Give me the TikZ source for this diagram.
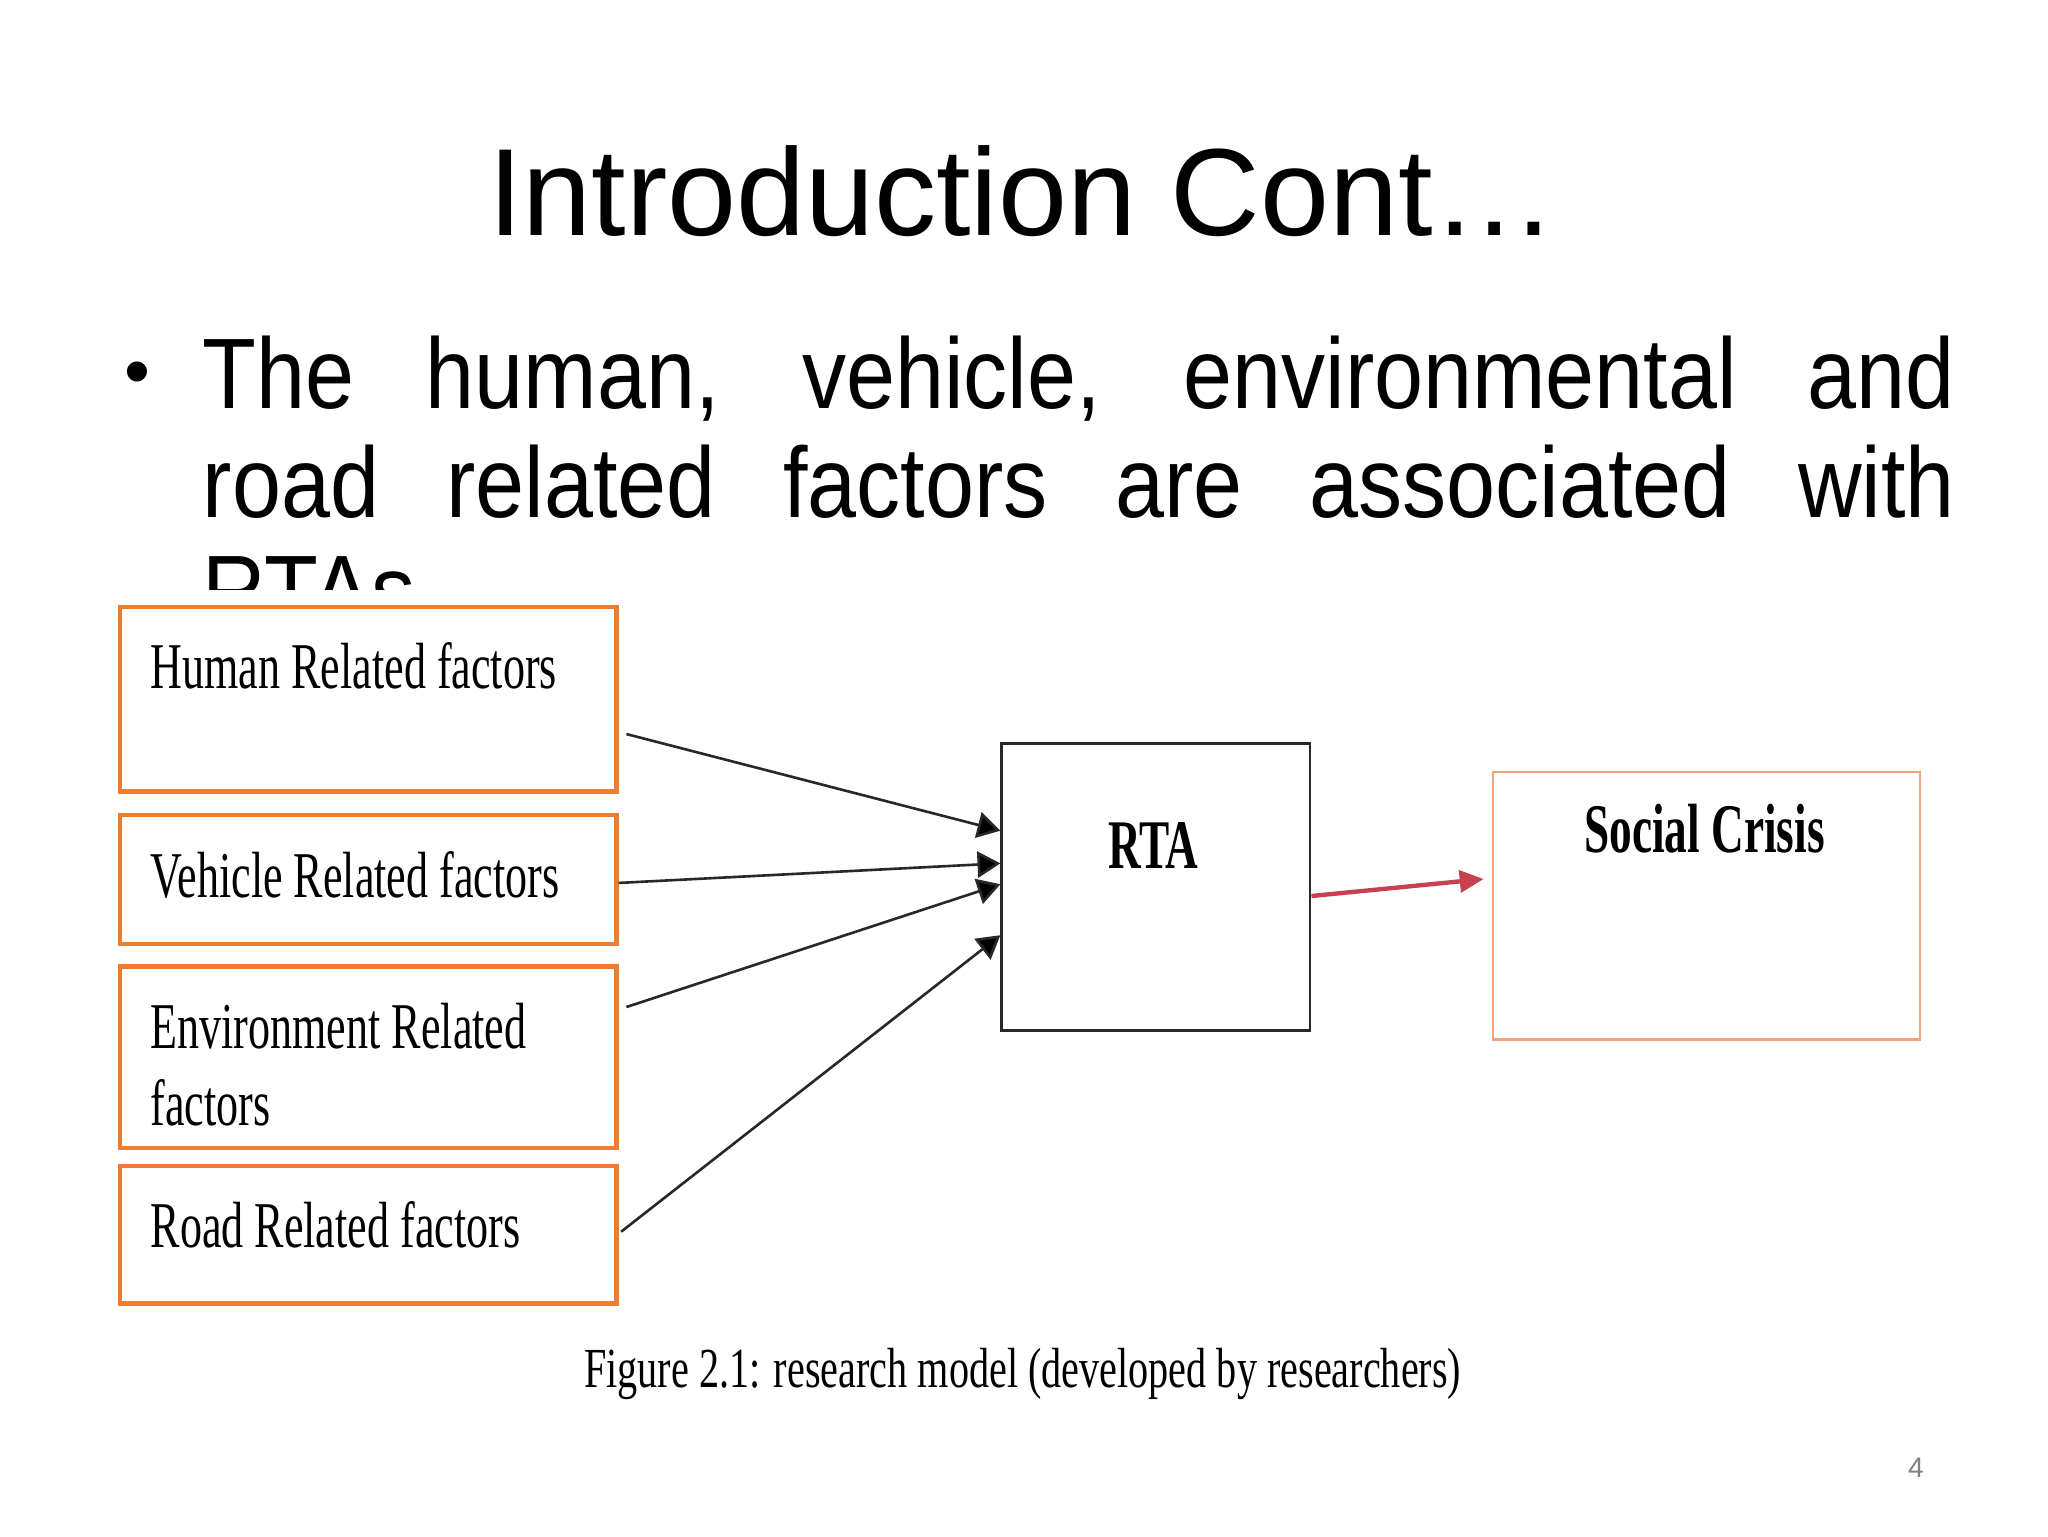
\documentclass[tikz,border=0pt]{standalone}
\usepackage{fontspec}
\setmainfont{Liberation Sans}
\newfontfamily\figfont[FakeStretch=0.675]{Liberation Serif}
\newfontfamily\boldfigfont[FakeStretch=0.65]{Liberation Serif}
\newfontfamily\capfont[FakeStretch=0.71]{Liberation Serif}
\newfontfamily\slidefont[FakeStretch=0.88]{Liberation Sans}
\usetikzlibrary{arrows.meta,calc}
\definecolor{boxorange}{RGB}{237,125,49}
\definecolor{lightorange}{RGB}{242,165,125}
\definecolor{darkline}{RGB}{40,40,40}
\definecolor{redarrow}{RGB}{200,65,80}
\definecolor{pagegray}{RGB}{130,130,130}
\tikzset{
  factorbox/.style={draw=boxorange, line width=1.9pt, minimum width=228pt, inner sep=0pt},
  figtext/.style={font=\figfont\fontsize{30}{34}\selectfont, inner sep=0pt},
  figbold/.style={font=\boldfigfont\bfseries\fontsize{32}{36}\selectfont, inner sep=0pt},
  inarrow/.style={draw=darkline, line width=1.2pt, -{Triangle[length=10.5pt,width=12pt,fill=black]}},
  slidetext/.style={font=\slidefont\fontsize{46}{50}\selectfont, inner sep=0pt}
}
\begin{document}
\begin{tikzpicture}[x=0.6pt,y=-0.6pt]
\useasboundingbox[fill=white] (0,0) rectangle (1568,1176);
% title
\node[font=\fontsize{57}{68}\selectfont, anchor=base, inner sep=0pt] (title) at (783,180) {Introduction Cont…};
% bullet
\node[font=\fontsize{34}{40}\selectfont, inner sep=0pt] (bullet) at (105,290) {•};
\node[slidetext, anchor=base west] (l1) at (155,313) {\makebox[805pt][s]{The human, vehicle, environmental and}};
\node[slidetext, anchor=base west] (l2) at (155,396) {\makebox[805pt][s]{road related factors are associated with}};
\node[slidetext, anchor=base west] (l3) at (155,479) {RTAs.};
% figure image area covering the text
\fill[white] (60,452) rectangle (1510,1088);
% factor boxes
\node[factorbox, minimum height=84.6pt] (hum) at (282,535.5) {};
\node[factorbox, minimum height=59.4pt] (veh) at (282,673.5) {};
\node[factorbox, minimum height=83.4pt] (env) at (282,809.5) {};
\node[factorbox, minimum height=63pt] (road) at (282,945.5) {};
\node[figtext, anchor=base west] (humt) at (115,527) {Human Related factors};
\node[figtext, anchor=base west] (veht) at (115,687) {Vehicle Related factors};
\node[figtext, anchor=base west] (envt) at (115,803) {Environment Related};
\node[figtext, anchor=base west] (envt2) at (115,862) {factors};
\node[figtext, anchor=base west] (roadt) at (115,955) {Road Related factors};
% RTA box
\node[draw=darkline, line width=1.3pt, minimum width=141.6pt, minimum height=132pt, inner sep=0pt] (rta) at (885,679) {};
\node[figbold, anchor=base] (rtat) at (883,665) {RTA};
% Social crisis box
\node[draw=lightorange, line width=1.3pt, minimum width=196.2pt, minimum height=123pt, inner sep=0pt] (soc) at (1306.5,693.5) {};
\node[figbold, anchor=base] (soct) at (1305,653) {Social Crisis};
% connectors
\coordinate (hs) at ($(hum.east)+(6,26.5)$);
\coordinate (vs) at ($(veh.east)+(0,2.5)$);
\coordinate (es) at ($(env.east)+(6,-38.5)$);
\coordinate (rs) at ($(road.east)+(2,-2.5)$);
\coordinate (he) at ($(rta.west)+(0,-43)$);
\coordinate (ve) at ($(rta.west)+(0,-18)$);
\coordinate (ee) at ($(rta.west)+(0,-2)$);
\coordinate (re) at ($(rta.west)+(0,37)$);
\draw[inarrow] (hs) -- (he);
\draw[inarrow] (vs) -- (ve);
\draw[inarrow] (es) -- (ee);
\draw[inarrow] (rs) -- (re);
\coordinate (rtas) at ($(rta.east)+(0,7)$);
\coordinate (soce) at ($(soc.west)+(-6,-20.5)$);
\draw[draw=redarrow, line width=2pt, -{Triangle[length=11pt,width=10pt]}] (rtas) -- (soce);
% caption
\node[font=\capfont\fontsize{26}{30}\selectfont, anchor=base, inner sep=0pt] (cap) at (783,1062) {Figure 2.1: research model (developed by researchers)};
% page number
\node[font=\fontsize{13}{15}\selectfont, text=pagegray, anchor=base, inner sep=0pt] (page) at (1467,1131) {4};
\end{tikzpicture}
\end{document}
